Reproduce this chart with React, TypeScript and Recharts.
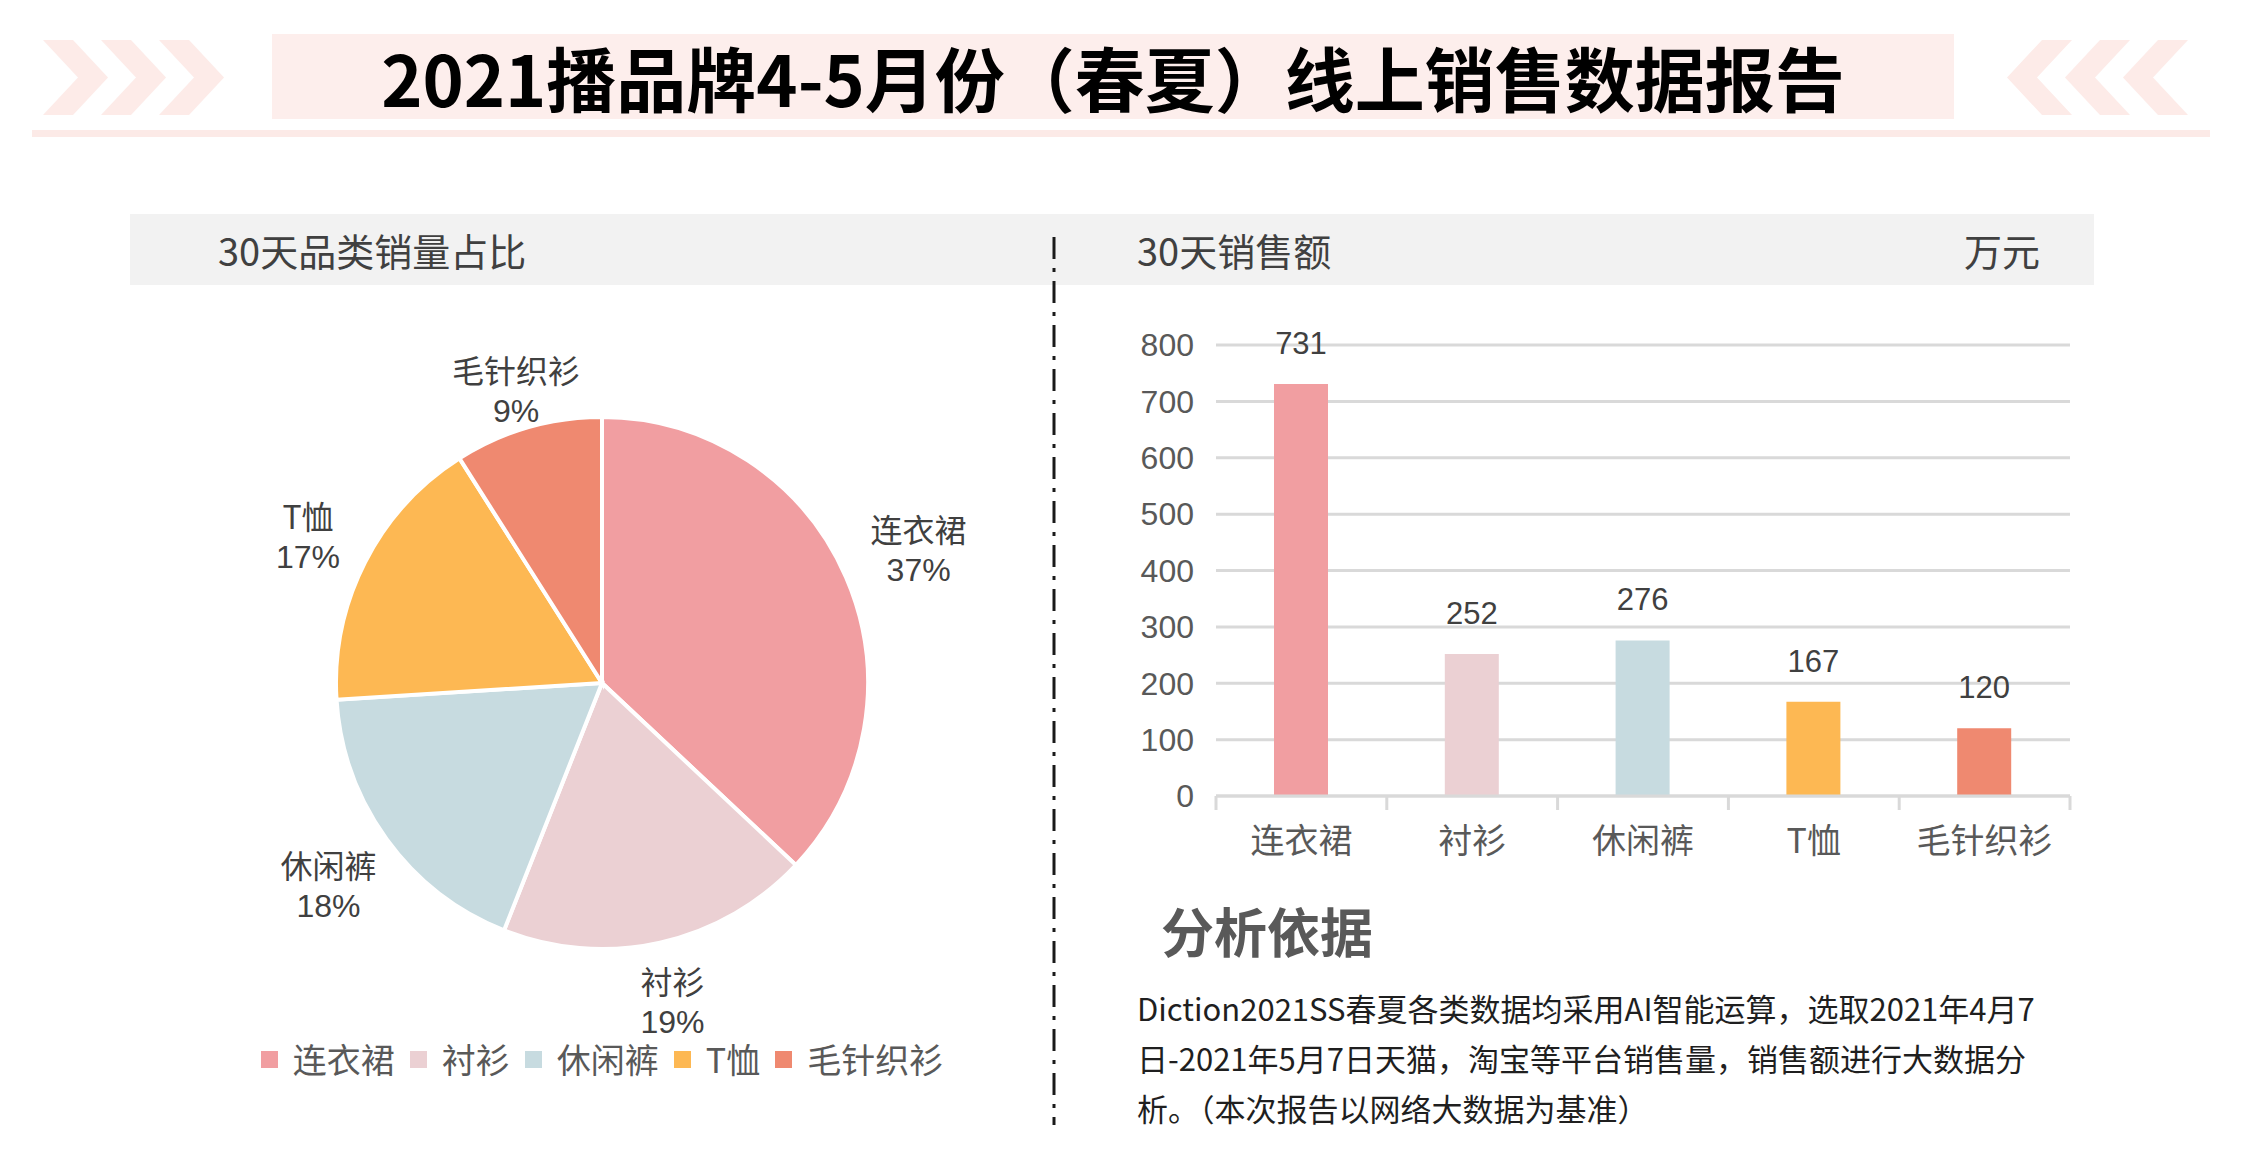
import React from "react";
import {
  PieChart,
  Pie,
  Cell,
  Legend,
  BarChart,
  Bar,
  XAxis,
  YAxis,
  CartesianGrid,
  LabelList,
} from "recharts";

const CATEGORIES = ["连衣裙", "衬衫", "休闲裤", "T恤", "毛针织衫"];
const SHARE = [37, 19, 18, 17, 9];
const SALES = [731, 252, 276, 167, 120];
const Y_TICKS = [0, 100, 200, 300, 400, 500, 600, 700, 800];
const COLORS = ["#F19EA1", "#EBD0D3", "#C7DBE0", "#FDB853", "#EF8970"];

const CJK = '"Noto Sans CJK SC", "Noto Sans", sans-serif';
const LATIN = '"Liberation Sans", Arial, "Noto Sans CJK SC", sans-serif';

const pieData = CATEGORIES.map((name, i) => ({ name, value: SHARE[i] }));
const barData = CATEGORIES.map((name, i) => ({ name, value: SALES[i] }));

// bar chart box
const BAR_LEFT = 1100;
const BAR_TOP = 300;
const BAR_W = 1000;
const BAR_H = 580;
const BAR_MARGIN = { top: 45, right: 30, left: 0, bottom: 24 };
const Y_AXIS_W = 116;
const BAND = (BAR_W - Y_AXIS_W - BAR_MARGIN.right) / CATEGORIES.length;

const RADIAN = Math.PI / 180;
// how far each outside label sits beyond the pie edge (excel "best fit" look)
const LABEL_GAP = [79, 57, 72, 64, 42];

function PieLabel(props: any) {
  const { cx, cy, midAngle, outerRadius, name, value, index } = props;
  const r = outerRadius + (LABEL_GAP[index] ?? 64);
  const x = cx + r * Math.cos(-midAngle * RADIAN);
  const y = cy + r * Math.sin(-midAngle * RADIAN);
  return (
    <text x={x} y={y} textAnchor="middle" fill="#404040" fontSize={32}>
      <tspan x={x} dy={-4} fontFamily={CJK}>
        {name}
      </tspan>
      <tspan x={x} dy={39} fontFamily={LATIN}>
        {value}%
      </tspan>
    </text>
  );
}

function PieLegend(props: any) {
  const items = [...(props.payload || [])].sort(
    (a: any, b: any) => CATEGORIES.indexOf(a.value) - CATEGORIES.indexOf(b.value)
  );
  return (
    <div style={{ display: "flex", justifyContent: "center", alignItems: "center" }}>
      {items.map((p: any, i: number) => (
        <div
          key={p.value}
          style={{
            display: "flex",
            alignItems: "center",
            marginRight: i === items.length - 1 ? 0 : 15,
          }}
        >
          <span
            style={{
              width: 17,
              height: 17,
              background: p.color,
              display: "inline-block",
              marginRight: 15,
            }}
          />
          <span style={{ fontFamily: CJK, fontSize: 34, color: "#595959", lineHeight: 1 }}>
            {p.value}
          </span>
        </div>
      ))}
    </div>
  );
}

function CategoryTick(props: any) {
  const { x, y, payload, index } = props;
  const half = BAND / 2;
  return (
    <g>
      <line x1={x - half} y1={y} x2={x - half} y2={y + 14} stroke="#d9d9d9" strokeWidth={3} />
      {index === CATEGORIES.length - 1 && (
        <line x1={x + half} y1={y} x2={x + half} y2={y + 14} stroke="#d9d9d9" strokeWidth={3} />
      )}
      <text x={x} y={y + 57} textAnchor="middle" fill="#595959" fontSize={34} fontFamily={CJK}>
        {payload.value}
      </text>
    </g>
  );
}

function Chevrons({ x0, dir }: { x0: number; dir: 1 | -1 }) {
  const top = 40;
  const bot = 115;
  const mid = (top + bot) / 2;
  const W = 65;
  const T = 30;
  const items = [0, 1, 2].map((i) => {
    const x = x0 + dir * i * 58;
    const pts = [
      [x, top],
      [x + dir * T, top],
      [x + dir * W, mid],
      [x + dir * T, bot],
      [x, bot],
      [x + dir * (W - T), mid],
    ]
      .map((p) => p.join(","))
      .join(" ");
    return <polygon key={i} points={pts} fill="#FDEBE8" />;
  });
  return <>{items}</>;
}

export default function App() {
  return (
    <div
      style={{
        position: "absolute",
        left: 0,
        top: 0,
        width: 2248,
        height: 1160,
        background: "#ffffff",
        overflow: "hidden",
        fontFamily: CJK,
      }}
    >
      <svg width={2248} height={1160} style={{ position: "absolute", left: 0, top: 0 }}>
        <Chevrons x0={43} dir={1} />
        <Chevrons x0={2188} dir={-1} />
        <rect x={272} y={34} width={1682} height={85} fill="#FDEEEC" />
        <rect x={32} y={130} width={2178} height={7} fill="#FCEAE7" />
        <rect x={130} y={214} width={1964} height={71} fill="#F2F2F2" />
        <line
          x1={1054}
          y1={237}
          x2={1054}
          y2={1125}
          stroke="#1a1a1a"
          strokeWidth={3}
          strokeDasharray="22 9 4 9"
        />
      </svg>

      <div
        style={{
          position: "absolute",
          left: 272,
          top: 34,
          width: 1682,
          height: 85,
          display: "flex",
          alignItems: "center",
          justifyContent: "center",
          fontSize: 70,
          fontWeight: 700,
          color: "#000000",
          lineHeight: 1,
        }}
      >
        2021播品牌4-5月份（春夏）线上销售数据报告
      </div>

      <div style={{ position: "absolute", left: 218, top: 230, fontSize: 38, lineHeight: "40px", color: "#404040" }}>
        30天品类销量占比
      </div>
      <div style={{ position: "absolute", left: 1137, top: 230, fontSize: 38, lineHeight: "40px", color: "#404040" }}>
        30天销售额
      </div>
      <div style={{ position: "absolute", left: 1964, top: 230, fontSize: 38, lineHeight: "40px", color: "#404040" }}>
        万元
      </div>

      <div style={{ position: "absolute", left: 129, top: 290 }}>
        <PieChart width={946} height={820} margin={{ top: 0, right: 0, bottom: 0, left: 0 }}>
          <Pie
            data={pieData}
            dataKey="value"
            nameKey="name"
            cx={473}
            cy={393}
            outerRadius={266}
            startAngle={90}
            endAngle={-270}
            stroke="#ffffff"
            strokeWidth={4}
            label={PieLabel}
            labelLine={false}
            isAnimationActive={false}
          >
            {pieData.map((d, i) => (
              <Cell key={d.name} fill={COLORS[i]} />
            ))}
          </Pie>
          <Legend
            content={PieLegend}
            wrapperStyle={{ top: 752, left: 0, width: 946 }}
          />
        </PieChart>
      </div>

      <div style={{ position: "absolute", left: BAR_LEFT, top: BAR_TOP }}>
        <BarChart width={BAR_W} height={BAR_H} data={barData} margin={BAR_MARGIN}>
          <CartesianGrid vertical={false} stroke="#d9d9d9" strokeWidth={3} />
          <XAxis
            dataKey="name"
            height={60}
            axisLine={{ stroke: "#d9d9d9", strokeWidth: 3 }}
            tickLine={false}
            tickSize={0}
            tickMargin={0}
            tick={<CategoryTick />}
            interval={0}
          />
          <YAxis
            width={Y_AXIS_W}
            domain={[0, 800]}
            ticks={Y_TICKS}
            axisLine={false}
            tickLine={false}
            tickMargin={16}
            tick={{ fill: "#595959", fontSize: 32, fontFamily: LATIN }}
          />
          <Bar dataKey="value" barSize={54} isAnimationActive={false}>
            {barData.map((d, i) => (
              <Cell key={d.name} fill={COLORS[i]} />
            ))}
            <LabelList
              dataKey="value"
              position="top"
              offset={30}
              fill="#404040"
              fontSize={31}
              fontFamily={LATIN}
            />
          </Bar>
        </BarChart>
      </div>

      <div
        style={{
          position: "absolute",
          left: 1161,
          top: 900,
          fontSize: 53,
          fontWeight: 700,
          color: "#595959",
          lineHeight: "60px",
        }}
      >
        分析依据
      </div>
      <div
        style={{
          position: "absolute",
          left: 1137,
          top: 983,
          fontSize: 31,
          lineHeight: "50px",
          color: "#1f1f1f",
          whiteSpace: "pre",
        }}
      >
        {"Diction2021SS春夏各类数据均采用AI智能运算，选取2021年4月7\n日-2021年5月7日天猫，淘宝等平台销售量，销售额进行大数据分\n析。（本次报告以网络大数据为基准）"}
      </div>
    </div>
  );
}
